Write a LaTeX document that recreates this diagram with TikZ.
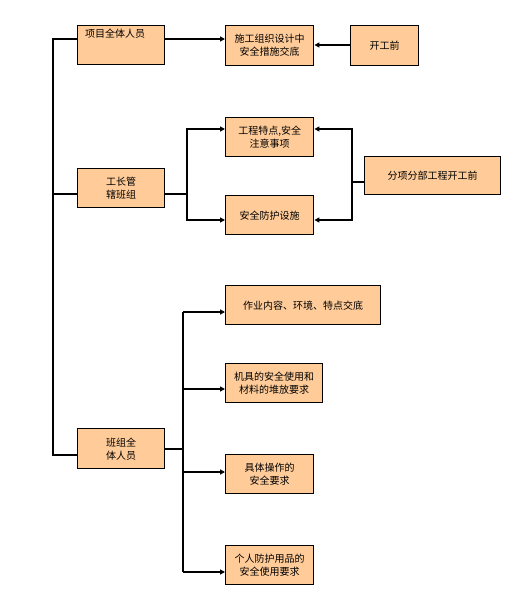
\documentclass[tikz,border=0pt]{standalone}
\usepackage{fontspec}
\usepackage{xcolor}
\usepackage{tikz}
\usetikzlibrary{positioning,arrows.meta,calc}
\newfontfamily\cjk{Noto Sans CJK SC}
\definecolor{boxfill}{HTML}{FFCC99}

\begin{document}
\begin{tikzpicture}[x=1pt,y=-1pt,font=\cjk\fontsize{10}{13}\selectfont,
  taskbox/.style={draw=black,fill=boxfill,line width=1.4pt,anchor=north west,
               minimum height=39pt,align=center,inner sep=2pt},
  ln/.style={line width=1.4pt},
  ar/.style={-{Triangle[length=5pt,width=5pt]},line width=1.4pt}]
\useasboundingbox (0,0) rectangle (520,603);
% top row
\node[taskbox,minimum width=87pt,text width=72pt,align=left,inner xsep=7pt,text height=8pt,text depth=24pt] (all) at (77,25) {项目全体人员};
\node[taskbox,minimum width=88pt,minimum height=40pt] (plan) at (225,25) {施工组织设计中\\安全措施交底};
\node[taskbox,minimum width=68pt,minimum height=40pt] (start) at (350,25) {开工前};
% foreman row
\node[taskbox,minimum width=88pt] (feat) at (225,117) {工程特点,安全\\注意事项};
\node[taskbox,minimum width=87pt] (foreman) at (77,168) {工长管\\辖班组};
\node[taskbox,minimum width=88pt] (guard) at (225,195) {安全防护设施};
\node[taskbox,minimum width=136pt,minimum height=38pt] (sub) at (364,156) {分项分部工程开工前};
% crew row
\node[taskbox,minimum width=155pt] (work) at (225,285) {作业内容、环境、特点交底};
\node[taskbox,minimum width=97pt] (tool) at (225,363) {机具的安全使用和\\材料的堆放要求};
\node[taskbox,minimum width=88pt] (oper) at (225,454) {具体操作的\\安全要求};
\node[taskbox,minimum width=88pt] (ppe) at (225,545) {个人防护用品的\\安全使用要求};
\node[taskbox,minimum width=87pt,minimum height=40pt] (crew) at (77,428) {班组全\\体人员};
% left bus
\coordinate (bustop) at (53,39);
\coordinate (busbot) at (53,455);
\draw[ln] (all.west |- bustop) -- (bustop) -- (busbot) -- (crew.west |- busbot);
\draw[ln] (53,194) -- (foreman.west |- 0,194);
% top arrows
\draw[ar] (all.east |- 0,39) -- (plan.west |- 0,39);
\draw[ar] (start.west |- 0,45) -- (plan.east |- 0,45);
% foreman branches
\coordinate (fj) at (187,194);
\draw[ln] (foreman.east |- fj) -- (fj);
\draw[ar] (fj) |- (feat.west |- 0,129);
\draw[ar] (fj) |- (guard.west |- 0,220);
\coordinate (sj) at (352,182);
\draw[ln] (sub.west |- sj) -- (sj);
\draw[ar] (sj) |- (feat.east |- 0,129);
\draw[ar] (sj) |- (guard.east |- 0,220);
% crew branches
\coordinate (cj) at (183,449);
\draw[ln] (crew.east |- cj) -- (cj);
\draw[ln] (183,312) -- (183,572);
\draw[ar] (183,312) -- (work.west |- 0,312);
\draw[ar] (183,389) -- (tool.west |- 0,389);
\draw[ar] (183,472) -- (oper.west |- 0,472);
\draw[ar] (183,572) -- (ppe.west |- 0,572);
\end{tikzpicture}
\end{document}
